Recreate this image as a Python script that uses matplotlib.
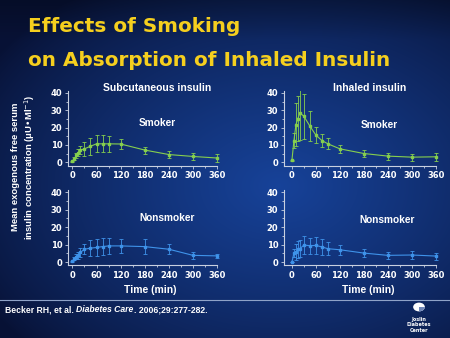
import matplotlib
matplotlib.use("Agg")
import matplotlib.pyplot as plt
import numpy as np
from matplotlib.ticker import MultipleLocator
from matplotlib.patches import Circle, Wedge

# ---- data ----
times = [0, 5, 10, 15, 20, 30, 45, 60, 75, 90, 120, 180, 240, 300, 360]

sc_smoker      = [0.5, 2.0, 4.0, 5.5, 7.0, 7.7, 9.2, 10.6, 10.6, 10.6, 10.5, 7.0, 4.4, 3.3, 2.4]
sc_smoker_err  = [0.3, 1.0, 1.5, 2.0, 2.5, 4.0, 5.0, 5.0, 5.0, 4.5, 3.0, 2.0, 2.0, 2.0, 2.5]
sc_non         = [0.5, 2.0, 3.0, 4.0, 5.5, 7.3, 7.9, 8.3, 8.8, 9.2, 9.2, 8.8, 7.3, 3.8, 3.5]
sc_non_err     = [0.3, 1.0, 1.5, 2.0, 2.5, 3.0, 4.5, 5.0, 5.0, 4.5, 4.0, 4.5, 3.0, 2.0, 1.0]

inh_smoker     = [1.2, 12.5, 21.7, 25.2, 28.5, 26.5, 20.8, 15.6, 12.5, 10.6, 7.7, 5.0, 3.5, 2.9, 3.1]
inh_smoker_err = [0.3, 4.5, 12.5, 13.0, 15.5, 13.0, 8.7, 4.6, 4.0, 3.2, 2.5, 2.2, 2.0, 2.0, 2.2]
inh_non        = [0.0, 5.1, 5.7, 7.2, 7.6, 9.7, 9.3, 9.5, 8.6, 7.6, 7.0, 5.1, 3.8, 4.0, 3.4]
inh_non_err    = [0.2, 2.5, 4.5, 5.0, 5.0, 5.0, 4.5, 5.0, 4.5, 3.8, 3.0, 2.5, 2.0, 2.5, 2.0]

GREEN = "#86cf4e"
BLUE = "#3f93ea"
TICKC = "#c8d0e0"
YELLOW = "#f5cf1e"

fig = plt.figure(figsize=(4.5, 3.38), dpi=100)

# ---- background gradient ----
bg = fig.add_axes([0, 0, 1, 1])
bg.axis("off")
yy, xx = np.mgrid[0:1:338j, 0:1:450j]
d = np.sqrt(((xx - 0.62) / 0.75) ** 2 + ((yy - 0.55) / 0.7) ** 2)
t = np.clip(1 - d, 0, 1) ** 0.8
dark = np.array([0.03, 0.07, 0.21])
light = np.array([0.09, 0.26, 0.60])
img = dark + (light - dark) * t[..., None]
img[:40] *= np.linspace(0.75, 1, 40)[:, None, None]
bg.imshow(img, aspect="auto", extent=[0, 1, 0, 1], origin="upper")
bg.set_xlim(0, 1)
bg.set_ylim(0, 1)


def panel(rect, xlo, y, err, color):
    ax = fig.add_axes(rect)
    ax.patch.set_alpha(0)
    ax.errorbar(times, y, yerr=err, color=color, lw=0.8, marker="s", ms=2,
                elinewidth=0.6, capsize=1.5, capthick=0.6)
    ax.set_xlim(xlo, 365)
    ax.set_ylim(-2, 41)
    ax.set_xticks(range(0, 361, 60))
    ax.set_yticks(range(0, 41, 10))
    ax.xaxis.set_minor_locator(MultipleLocator(30))
    ax.yaxis.set_minor_locator(MultipleLocator(5))
    for s in ("top", "right"):
        ax.spines[s].set_visible(False)
    for s in ("left", "bottom"):
        ax.spines[s].set_color(TICKC)
        ax.spines[s].set_linewidth(0.8)
    ax.spines["bottom"].set_bounds(xlo, 360)
    ax.tick_params(which="both", colors=TICKC, labelcolor="white",
                   labelsize=6, width=0.6, pad=1.5)
    ax.tick_params(which="major", length=2.5)
    ax.tick_params(which="minor", length=1.5)
    for lab in ax.get_xticklabels() + ax.get_yticklabels():
        lab.set_fontweight("bold")
    return ax


panel([0.151, 0.510, 0.336, 0.220], -11, sc_smoker, sc_smoker_err, GREEN)
panel([0.151, 0.2145, 0.336, 0.2225], -11, sc_non, sc_non_err, BLUE)
panel([0.631, 0.510, 0.342, 0.220], -20, inh_smoker, inh_smoker_err, GREEN)
panel([0.631, 0.2145, 0.342, 0.2225], -20, inh_non, inh_non_err, BLUE)

lab = dict(color="white", fontweight="bold", family="Liberation Sans")
fig.text(157 / 450, 1 - 88 / 338, "Subcutaneous insulin", ha="center", va="center", fontsize=7.5, **lab)
fig.text(370 / 450, 1 - 88 / 338, "Inhaled insulin", ha="center", va="center", fontsize=7.5, **lab)
fig.text(157 / 450, 1 - 123 / 338, "Smoker", ha="center", va="center", fontsize=7.3, **lab)
fig.text(379 / 450, 1 - 125 / 338, "Smoker", ha="center", va="center", fontsize=7.3, **lab)
fig.text(167 / 450, 1 - 218 / 338, "Nonsmoker", ha="center", va="center", fontsize=7.3, **lab)
fig.text(387 / 450, 1 - 220 / 338, "Nonsmoker", ha="center", va="center", fontsize=7.3, **lab)
fig.text(150 / 450, 1 - 290 / 338, "Time (min)", ha="center", va="center", fontsize=7.5, **lab)
fig.text(368 / 450, 1 - 290 / 338, "Time (min)", ha="center", va="center", fontsize=7.5, **lab)
fig.text(24 / 450, 1 - 167 / 338,
         "Mean exogenous free serum\ninsulin concentration (\u03bcU\u2022Ml$^{-1}$)",
         ha="center", va="center", rotation=90, fontsize=6.8, linespacing=1.3, **lab)

# ---- title ----
fig.text(28 / 450, 1 - 27 / 338, "Effects of Smoking", color=YELLOW,
         fontsize=14.4, fontweight="bold", ha="left", va="center")
fig.text(28 / 450, 1 - 60 / 338, "on Absorption of Inhaled Insulin", color=YELLOW,
         fontsize=14.4, fontweight="bold", ha="left", va="center")

# ---- footer ----
bg.axhline(1 - 300 / 338, color="#8fa3c8", lw=0.8)
renderer = fig.canvas.get_renderer()
x = 5 / 450
for txt, style in [("Becker RH, et al. ", "normal"), ("Diabetes Care", "italic"),
                   (". 2006;29:277-282.", "normal")]:
    tt = fig.text(x, 1 - 310 / 338, txt, color="white", fontsize=6.2, style=style,
                  ha="left", va="center", **{k: v for k, v in lab.items() if k != "color"})
    bb = tt.get_window_extent(renderer)
    x += bb.width / fig.bbox.width

cx, cy = 419 / 450, 1 - 307 / 338
bg.add_patch(Circle((cx, cy), 0.013, transform=bg.transAxes,
                    facecolor="white", edgecolor="none"))
bg.add_patch(Wedge((cx, cy), 0.013, 270, 360, transform=bg.transAxes,
                   facecolor="#6f86b8", edgecolor="none"))
fig.text(419 / 450, 1 - 325 / 338, "Joslin\nDiabetes\nCenter", color="white",
         fontsize=3.5, fontweight="bold", ha="center", va="center", linespacing=1.1)

fig.savefig("out.png", dpi=100)
